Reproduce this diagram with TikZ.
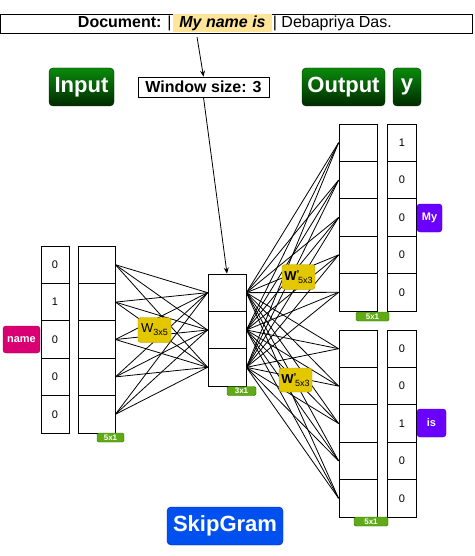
\documentclass[tikz,border=0pt]{standalone}
\usepackage{fontspec}
\setmainfont{Liberation Sans}
\usetikzlibrary{positioning,shapes,arrows.meta}

\definecolor{hlyellow}{HTML}{FFE599}
\definecolor{wfill}{HTML}{E3C800}
\definecolor{wdraw}{HTML}{B09500}
\definecolor{dimfill}{HTML}{60A917}
\definecolor{dimdraw}{HTML}{2D7600}
\definecolor{namefill}{HTML}{D80073}
\definecolor{namedraw}{HTML}{A50040}
\definecolor{ctxfill}{HTML}{6A00FF}
\definecolor{ctxdraw}{HTML}{3700CC}
\definecolor{blufill}{HTML}{0050EF}
\definecolor{bludraw}{HTML}{001DBC}
\definecolor{grtop}{HTML}{0A8A0A}
\definecolor{grbot}{HTML}{002A00}

\tikzset{
  cell/.style={draw, line width=0.8pt, minimum width=38pt, minimum height=37.4pt, inner sep=0pt, fill=white},
  valcell/.style={cell, minimum width=29pt, font=\fontsize{11}{12}\selectfont},
  dim/.style={draw=dimdraw, fill=dimfill, rounded corners=1.5pt, minimum height=9pt, inner sep=0pt, text=white, font=\bfseries\fontsize{8}{8}\selectfont},
  title/.style={draw=grbot, top color=grtop, bottom color=grbot, rounded corners=4pt, minimum height=38pt, inner sep=0pt, text=white, font=\bfseries\fontsize{22}{24}\selectfont},
  word/.style={rounded corners=3pt, inner sep=0pt, text=white, font=\bfseries\fontsize{11}{12}\selectfont},
  weight/.style={draw=wdraw, fill=wfill, rounded corners=3pt, minimum width=33pt, minimum height=25pt, inner sep=0pt, font=\fontsize{13}{14}\selectfont},
  doctext/.style={inner sep=0pt, text height=12pt, text depth=3.5pt, font=\fontsize{16}{18}\selectfont},
  wire/.style={line width=0.8pt},
}
\newcommand{\wprime}[1]{W\raisebox{3pt}{\fontsize{10}{10}\selectfont\bfseries '}\kern-1.5pt\raisebox{-3pt}{\fontsize{9}{9}\selectfont #1}}

\begin{document}
\begin{tikzpicture}[x=1pt, y=-1pt]
\useasboundingbox (0,0) rectangle (474,556);

% document line
\node[draw, line width=0.8pt, minimum width=472pt, minimum height=19pt, inner sep=0pt] (doc) at (236.5,23.5) {};
\node[doctext, fill=hlyellow, minimum width=99pt, minimum height=18pt] (window) at (222.5,23.5) {\bfseries\itshape My name is};
\node[doctext, anchor=east] (doclabel) at ([xshift=-1pt]window.west) {\textbf{Document:} |};
\node[doctext, anchor=west] (docrest) at ([xshift=0.5pt]window.east) {| Debapriya Das.};
\coordinate (winsrc) at (197,37);

% headings
\node[title, minimum width=65pt] (input) at (81.5,87) {Input};
\node[title, minimum width=83pt] (output) at (343.5,87) {Output};
\node[title, minimum width=28pt] (y) at (407,87) {y};
\node[draw, line width=0.8pt, minimum width=131pt, minimum height=20pt, inner sep=0pt, font=\bfseries\fontsize{16}{18}\selectfont] (winsize) at (203.5,87) {Window size: 3};

% input one-hot and embedding layer
\foreach \v [count=\i] in {0,1,0,0,0} {
  \node[valcell, minimum width=28pt] (in\i) at (55,227.3+37.4*\i) {\v};
  \node[cell, minimum width=37pt] (emb\i) at (96.5,227.3+37.4*\i) {};
}
\node[dim, minimum width=27pt] (embdim) at (110.5,437.5) {5x1};
\node[word, fill=namefill, draw=namedraw, minimum width=37pt, minimum height=27pt] (name) at (21.5,339.5) {name};

% hidden layer
\foreach \j in {1,2,3}
  \node[cell, minimum height=37.33pt] (hid\j) at (227,255.33+37.33*\j) {};
\node[dim, minimum width=29pt] (hiddim) at (241.5,391) {3x1};

% output layers
\foreach \v [count=\k] in {1,0,0,0,0} {
  \node[cell] (outa\k) at (358,105.3+37.4*\k) {};
  \node[valcell] (vala\k) at (402,105.3+37.4*\k) {\v};
}
\foreach \v [count=\k] in {0,0,1,0,0} {
  \node[cell] (outb\k) at (358,311.3+37.4*\k) {};
  \node[valcell] (valb\k) at (402,311.3+37.4*\k) {\v};
}
\node[dim, minimum width=33pt] (outadim) at (372.5,316.5) {5x1};
\node[dim, minimum width=34pt] (outbdim) at (371,521.5) {5x1};
\node[word, fill=ctxfill, draw=ctxdraw, minimum width=25pt, minimum height=28pt] (my) at (429.5,218) {My};
\node[word, fill=ctxfill, draw=ctxdraw, minimum width=29pt, minimum height=28pt] (is) at (431.5,423) {is};

% connections
\foreach \i in {1,...,5}
  \foreach \j in {1,2,3}
    \draw[wire] (emb\i.east) -- (hid\j.west);
\foreach \j in {1,2,3}
  \foreach \k in {1,...,5} {
    \draw[wire] (hid\j.east) -- (outa\k.west);
    \draw[wire] (hid\j.east) -- (outb\k.west);
  }
\draw[-{Stealth[length=6pt,width=5pt]}, line width=0.8pt] (winsrc) -- (winsize.north);
\draw[-{Stealth[length=6pt,width=5pt]}, line width=0.8pt] (winsize.south) -- (hid1.north);

% weights
\node[weight] (w1) at (154.5,330) {W\raisebox{-3pt}{\fontsize{9}{9}\selectfont 3x5}};
\node[weight, font=\bfseries\fontsize{13}{14}\selectfont] (w2) at (298.5,277) {\wprime{\mdseries 5x3}};
\node[weight, minimum height=24pt, font=\bfseries\fontsize{13}{14}\selectfont] (w3) at (295.5,380) {\wprime{\mdseries 5x3}};

\node[word, fill=blufill, draw=bludraw, rounded corners=4pt, minimum width=116pt, minimum height=38pt, font=\bfseries\fontsize{22}{24}\selectfont] (skipgram) at (225,526) {SkipGram};
\end{tikzpicture}
\end{document}
